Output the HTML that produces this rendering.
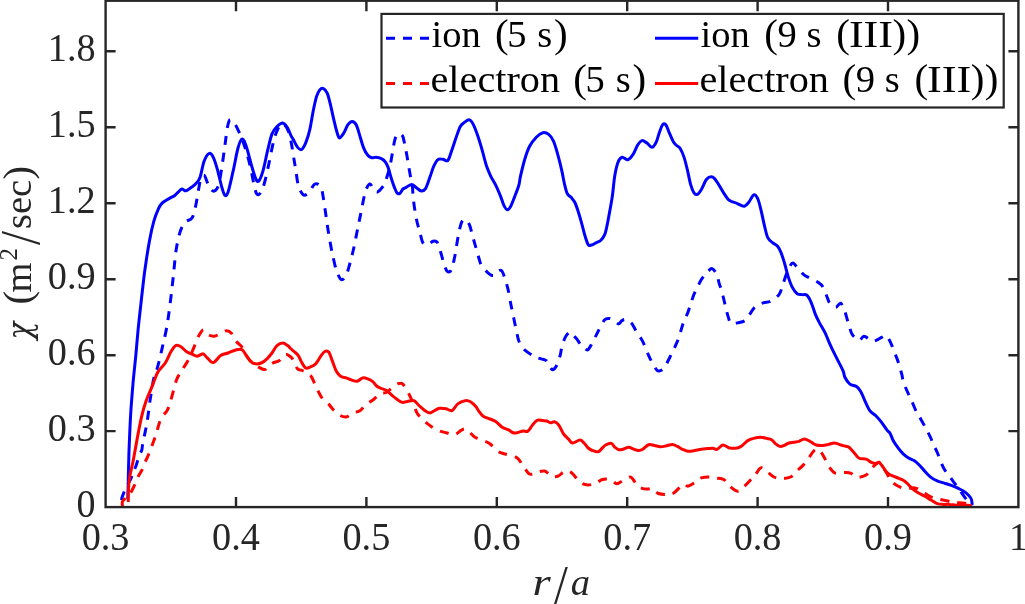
<!DOCTYPE html>
<html><head><meta charset="utf-8"><title>chi profile</title>
<style>html,body{margin:0;padding:0;background:#fff;}svg{display:block;}</style>
</head><body>
<svg width="1025" height="604" viewBox="0 0 1025 604">
<rect width="1025" height="604" fill="#fff"/>
<path d="M121.5,500.0C121.6,499.5 121.5,499.1 122.2,497.0C122.9,494.9 124.5,490.7 125.9,487.7C127.3,484.7 129.6,481.5 130.8,478.9C132.0,476.3 132.4,474.6 133.3,472.3C134.2,470.0 135.4,467.6 136.3,465.0C137.2,462.4 137.9,459.5 138.8,457.0C139.7,454.5 141.2,452.1 141.8,450.0C142.4,447.9 141.8,449.0 142.6,444.5C143.4,440.0 145.6,430.5 146.9,423.0C148.2,415.5 149.1,406.6 150.2,399.4C151.3,392.2 152.7,383.9 153.4,380.0C154.2,376.1 153.9,378.6 154.7,376.0C155.5,373.4 157.0,369.4 158.3,364.4C159.6,359.4 161.2,352.5 162.6,346.2C164.0,339.9 165.7,333.3 166.9,326.4C168.1,319.5 169.0,312.5 170.0,304.8C171.0,297.1 172.3,285.4 172.9,280.0C173.5,274.6 173.1,277.8 173.7,272.7C174.2,267.6 175.1,256.4 176.2,249.5C177.3,242.6 178.8,235.9 180.3,231.3C181.8,226.8 183.4,224.4 185.3,222.2C187.2,220.0 190.2,220.4 191.9,218.1C193.6,215.8 194.1,212.8 195.2,208.1C196.3,203.4 197.6,194.6 198.5,189.9C199.4,185.2 199.6,182.4 200.5,180.0C201.4,177.6 202.8,174.6 204.1,175.3C205.4,176.0 206.7,181.8 208.2,184.4C209.7,187.0 211.5,190.8 213.2,191.1C214.9,191.4 216.8,189.7 218.2,186.1C219.6,182.5 220.4,176.1 221.5,169.5C222.6,162.9 223.8,153.3 224.8,146.4C225.8,139.5 226.5,132.5 227.3,128.1C228.1,123.7 228.7,120.9 229.8,119.9C230.9,119.0 232.5,120.8 233.9,122.4C235.3,124.1 236.6,126.9 238.0,129.8C239.4,132.7 240.7,135.6 242.2,139.7C243.7,143.8 245.7,149.3 247.2,154.6C248.7,159.8 250.1,165.7 251.3,171.2C252.5,176.7 253.6,183.8 254.6,187.7C255.6,191.6 256.1,193.6 257.1,194.4C258.1,195.2 259.2,194.6 260.4,192.7C261.6,190.8 263.1,187.5 264.5,182.8C265.9,178.1 267.3,170.9 268.7,164.6C270.1,158.2 271.6,149.9 272.8,144.7C274.0,139.4 274.9,136.4 276.1,133.1C277.4,129.8 278.9,126.2 280.3,124.8C281.7,123.4 283.0,123.7 284.4,124.8C285.8,125.9 287.3,128.2 288.5,131.5C289.7,134.8 290.7,139.8 291.6,144.6C292.5,149.3 293.4,155.8 294.1,160.0C294.8,164.2 295.1,165.8 295.8,169.9C296.5,174.0 297.0,180.7 298.2,184.8C299.4,189.0 301.4,193.6 303.2,194.8C305.0,196.1 307.1,194.1 309.0,192.3C310.9,190.5 312.9,185.0 314.8,184.0C316.7,183.0 319.2,184.4 320.6,186.5C322.0,188.6 322.3,192.0 323.1,196.4C323.9,200.8 324.8,207.5 325.6,213.0C326.4,218.5 327.1,223.8 328.0,229.5C328.9,235.2 330.2,242.5 331.0,247.0C331.8,251.5 332.1,252.8 333.0,256.6C333.9,260.4 334.9,266.0 336.3,269.8C337.7,273.6 339.6,278.9 341.3,279.7C343.0,280.5 344.8,277.8 346.3,274.8C347.8,271.8 349.2,265.9 350.4,261.5C351.6,257.1 352.5,253.9 353.7,248.3C354.9,242.7 356.6,234.1 357.8,227.9C359.1,221.7 360.1,216.8 361.2,211.3C362.3,205.8 363.6,198.8 364.5,195.0C365.4,191.2 365.6,190.3 366.5,188.5C367.4,186.7 368.6,183.6 369.9,183.9C371.2,184.2 373.2,189.2 374.5,190.6C375.8,191.9 376.5,192.2 377.5,192.0C378.5,191.8 379.5,190.8 380.7,189.3C381.9,187.8 383.6,185.8 384.8,183.1C386.0,180.4 387.3,175.8 388.1,173.2C388.9,170.6 389.2,170.0 389.8,167.4C390.4,164.8 390.8,162.1 391.6,157.5C392.5,152.9 393.8,143.6 394.9,139.7C396.0,135.8 396.9,134.6 398.2,133.9C399.4,133.2 401.3,133.8 402.4,135.6C403.5,137.4 404.0,141.0 404.8,144.7C405.6,148.4 406.5,153.2 407.3,157.9C408.1,162.6 409.0,168.1 409.8,172.8C410.6,177.5 411.8,182.1 412.3,186.1C412.9,190.1 412.7,192.6 413.1,196.6C413.5,200.6 414.1,205.4 414.8,209.8C415.5,214.2 416.5,219.4 417.3,223.0C418.1,226.6 418.8,228.0 419.7,231.3C420.6,234.6 421.6,240.7 423.0,242.9C424.4,245.1 426.3,244.9 428.0,244.6C429.7,244.3 431.5,241.7 433.0,241.3C434.5,240.9 435.9,240.4 437.1,242.1C438.3,243.8 439.3,247.8 440.4,251.2C441.5,254.6 442.6,259.5 443.7,262.8C444.8,266.1 445.9,269.9 447.1,271.1C448.4,272.3 450.0,272.4 451.2,270.2C452.4,268.0 453.5,262.4 454.5,257.8C455.5,253.2 456.2,247.6 457.0,242.9C457.8,238.2 458.7,233.3 459.5,229.7C460.3,226.1 461.0,223.1 462.0,221.4C463.0,219.7 464.1,219.1 465.3,219.7C466.5,220.2 468.2,221.9 469.4,224.7C470.6,227.5 471.6,232.4 472.7,236.3C473.8,240.2 474.9,244.2 476.0,247.9C477.1,251.6 478.1,255.5 479.0,258.5C479.9,261.5 480.2,263.4 481.6,265.7C483.0,268.0 485.5,270.6 487.4,272.3C489.3,274.0 491.6,275.7 493.2,275.6C494.8,275.6 495.6,272.8 497.0,272.0C498.4,271.2 500.2,269.6 501.5,270.6C502.8,271.6 503.7,274.9 504.8,278.1C505.9,281.3 507.1,285.6 508.1,289.7C509.1,293.8 509.9,299.3 510.6,302.9C511.3,306.5 511.6,307.9 512.3,311.2C513.0,314.5 513.9,318.9 514.7,322.8C515.5,326.7 516.7,331.8 517.2,334.4C517.8,337.0 517.5,336.5 518.0,338.2C518.5,339.9 519.2,342.7 520.5,344.8C521.8,346.9 523.6,348.9 525.5,350.6C527.4,352.3 530.3,354.0 532.1,355.1C533.9,356.2 535.0,356.9 536.5,357.5C538.0,358.1 539.6,358.4 541.2,358.9C542.8,359.4 544.8,359.4 546.2,360.6C547.6,361.8 548.4,364.5 549.5,366.0C550.6,367.5 551.5,369.9 552.8,369.7C554.0,369.5 555.8,367.2 557.0,364.7C558.2,362.2 559.5,357.8 560.3,354.8C561.1,351.8 561.1,349.4 561.9,346.5C562.7,343.6 564.0,339.8 565.2,337.4C566.5,335.0 568.2,332.9 569.4,332.4C570.6,331.9 571.3,333.4 572.5,334.5C573.7,335.6 575.2,337.1 576.6,338.8C578.0,340.5 579.3,343.0 580.7,344.6C582.1,346.2 583.6,347.9 584.9,348.7C586.1,349.5 587.0,350.5 588.2,349.5C589.4,348.5 590.9,345.4 592.3,342.9C593.7,340.4 595.2,337.1 596.5,334.6C597.8,332.1 598.4,330.5 599.8,328.0C601.2,325.5 603.2,321.3 604.7,319.7C606.2,318.1 607.6,318.4 608.9,318.4C610.1,318.4 611.1,319.1 612.2,319.7C613.3,320.3 614.4,321.3 615.5,322.0C616.6,322.7 617.8,324.1 618.8,323.9C619.8,323.7 620.5,321.8 621.5,321.0C622.5,320.2 623.5,319.5 624.6,319.4C625.7,319.3 626.8,319.8 628.0,320.5C629.2,321.2 630.7,322.1 632.1,323.9C633.5,325.7 634.7,328.8 636.2,331.3C637.7,333.8 639.8,336.5 641.2,338.8C642.6,341.1 643.3,342.6 644.5,345.4C645.7,348.1 647.4,352.5 648.6,355.3C649.8,358.1 650.5,359.5 651.9,362.0C653.3,364.5 655.5,368.8 656.9,370.2C658.3,371.6 659.0,371.1 660.2,370.7C661.4,370.3 662.7,370.0 664.3,367.7C665.9,365.4 668.1,360.8 670.0,357.0C671.9,353.2 674.2,348.6 675.7,345.2C677.2,341.8 678.0,339.7 679.0,336.9C680.0,334.1 680.7,331.2 681.5,328.6C682.3,326.0 682.9,323.9 684.0,321.2C685.1,318.4 686.9,314.9 688.0,312.1C689.1,309.3 689.5,307.5 690.5,304.6C691.5,301.7 692.7,297.4 693.8,294.7C694.9,291.9 695.9,290.6 697.1,288.1C698.3,285.6 699.8,282.2 701.2,279.8C702.6,277.4 704.1,275.5 705.4,274.0C706.6,272.5 707.6,271.6 708.7,270.7C709.8,269.8 710.7,267.9 712.0,268.5C713.3,269.1 715.5,271.6 716.7,274.0C717.9,276.4 718.3,280.3 719.1,283.1C719.9,285.9 720.8,287.7 721.6,290.6C722.4,293.5 723.4,297.6 724.1,300.5C724.8,303.4 725.1,305.1 725.8,307.9C726.5,310.7 727.5,314.6 728.3,317.1C729.1,319.6 729.4,321.7 730.4,322.8C731.4,323.9 732.8,323.5 734.0,323.5C735.2,323.5 735.9,323.3 737.8,322.8C739.7,322.3 743.2,321.9 745.3,320.4C747.4,318.9 748.6,315.9 750.2,313.7C751.8,311.5 752.8,308.8 755.0,307.0C757.2,305.2 760.6,303.8 763.2,302.8C765.8,301.8 768.1,302.6 770.7,301.2C773.3,299.8 777.1,297.1 779.0,294.6C780.9,292.1 781.1,289.8 782.3,286.3C783.5,282.9 785.2,277.2 786.4,273.9C787.6,270.6 788.6,268.2 789.7,266.4C790.8,264.6 791.8,263.0 793.0,263.1C794.2,263.2 795.4,265.4 797.2,267.3C799.0,269.2 801.7,272.9 803.8,274.7C805.9,276.5 807.2,276.8 809.6,278.0C812.0,279.2 815.6,280.6 817.9,282.2C820.2,283.8 821.7,284.8 823.3,287.5C824.9,290.2 826.4,295.6 827.5,298.2C828.6,300.8 828.5,301.7 829.9,303.2C831.3,304.7 833.9,307.3 835.7,307.3C837.5,307.3 839.2,302.5 840.7,303.2C842.2,303.9 843.7,308.8 844.8,311.5C845.9,314.2 846.5,316.9 847.3,319.7C848.1,322.4 849.0,325.5 849.8,328.0C850.6,330.5 850.8,332.5 852.3,334.6C853.8,336.7 857.0,340.1 858.9,340.4C860.8,340.7 862.1,336.4 863.9,336.3C865.7,336.2 868.2,338.8 869.7,339.6C871.2,340.4 871.8,341.2 873.0,341.3C874.2,341.4 875.6,340.6 877.1,339.9C878.6,339.2 880.6,337.8 882.1,337.1C883.6,336.4 884.8,334.7 886.2,335.5C887.6,336.3 889.1,339.6 890.4,342.1C891.6,344.6 892.6,347.6 893.7,350.4C894.8,353.1 896.0,356.0 897.0,358.6C898.0,361.2 898.7,363.3 899.5,366.1C900.3,368.9 901.4,372.9 902.0,375.2C902.6,377.5 902.2,377.6 902.9,379.9C903.6,382.2 904.8,385.7 906.2,389.0C907.6,392.3 909.5,396.1 911.2,399.8C912.9,403.5 914.6,408.1 916.2,411.4C917.9,414.7 919.5,416.8 921.1,419.7C922.8,422.6 924.6,426.0 926.1,428.8C927.6,431.6 928.7,433.7 930.0,436.4C931.3,439.1 932.5,442.2 933.7,445.0C935.0,447.8 936.2,450.0 937.5,453.0C938.8,456.0 940.1,460.2 941.3,463.0C942.5,465.8 943.2,467.5 944.6,469.7C946.0,471.9 948.1,474.2 949.6,476.3C951.1,478.4 952.1,479.9 953.7,482.1C955.4,484.3 958.0,487.4 959.5,489.5C961.0,491.6 961.4,492.6 962.8,494.5C964.2,496.4 966.4,499.5 967.8,501.1C969.2,502.8 970.5,503.8 971.1,504.4" fill="none" stroke="#0000ff" stroke-width="3.0" stroke-dasharray="9 8" stroke-linejoin="round"/>
<path d="M127.8,499.0C127.9,496.5 128.1,489.5 128.2,484.0C128.3,478.5 128.4,472.3 128.6,466.0C128.8,459.7 128.8,455.0 129.2,446.0C129.6,437.0 130.1,423.0 130.8,412.0C131.5,401.0 132.5,389.6 133.3,380.0C134.2,370.4 135.1,362.9 135.9,354.5C136.7,346.1 137.3,338.0 138.1,329.7C138.9,321.4 139.9,313.1 140.8,304.8C141.7,296.5 142.7,287.6 143.6,280.0C144.5,272.4 145.4,266.2 146.4,259.5C147.4,252.8 148.5,245.9 149.7,239.6C150.9,233.2 152.4,226.4 153.8,221.4C155.2,216.4 156.6,212.8 158.0,209.8C159.4,206.8 159.9,205.3 162.1,203.2C164.3,201.1 169.1,198.7 171.2,197.4C173.3,196.2 173.2,196.7 174.5,195.7C175.8,194.7 177.4,192.7 178.7,191.6C179.9,190.5 180.8,189.2 182.0,189.1C183.2,189.0 184.6,191.1 186.1,190.8C187.6,190.5 189.5,188.6 191.1,187.5C192.7,186.4 194.0,185.7 195.5,184.0C197.0,182.3 198.6,181.3 200.0,177.5C201.4,173.7 202.6,165.3 204.1,161.3C205.6,157.3 207.6,154.2 209.1,153.5C210.6,152.8 211.8,154.4 213.2,157.1C214.6,159.8 216.0,164.7 217.4,169.5C218.8,174.3 220.3,181.8 221.5,186.1C222.7,190.4 223.7,194.2 224.8,195.2C225.9,196.2 226.7,195.9 228.1,191.9C229.5,187.9 231.4,178.5 233.1,171.2C234.8,163.9 236.5,153.4 238.0,148.0C239.5,142.6 240.8,139.2 242.2,138.9C243.6,138.6 244.8,142.1 246.3,146.4C247.8,150.7 249.8,159.4 251.3,164.6C252.8,169.8 254.2,175.1 255.4,177.8C256.6,180.6 257.4,182.2 258.7,181.1C259.9,180.0 261.4,176.4 262.9,171.2C264.4,166.0 266.3,155.9 267.8,149.7C269.3,143.5 270.5,137.8 272.0,133.9C273.5,130.0 275.2,128.3 277.0,126.5C278.8,124.7 281.0,122.8 282.7,122.9C284.4,123.1 285.8,125.3 287.2,127.4C288.6,129.5 290.0,133.6 291.0,135.6C292.0,137.6 292.2,137.7 293.3,139.6C294.4,141.5 296.0,145.4 297.4,147.1C298.8,148.8 300.2,150.2 301.6,149.5C303.0,148.8 304.3,146.2 305.7,142.9C307.1,139.6 308.6,134.9 309.8,129.7C311.0,124.5 312.0,117.0 313.1,111.5C314.2,106.0 315.4,100.2 316.5,96.6C317.6,93.0 318.7,91.3 319.8,89.9C320.9,88.5 321.9,87.8 323.1,88.3C324.3,88.8 326.0,90.5 327.2,93.2C328.4,96.0 329.4,100.4 330.5,104.8C331.6,109.2 332.7,115.0 333.8,119.7C334.9,124.4 336.2,130.0 337.2,133.0C338.2,136.0 338.5,137.9 339.6,137.9C340.7,137.9 342.4,135.2 343.8,133.0C345.2,130.8 346.5,126.6 347.9,124.7C349.3,122.8 350.7,121.4 352.1,121.4C353.5,121.4 355.0,122.5 356.2,124.7C357.4,126.9 358.3,130.7 359.5,134.6C360.7,138.5 362.2,144.4 363.6,147.9C365.0,151.4 366.4,153.7 367.8,155.3C369.2,157.0 370.5,157.5 371.9,157.8C373.3,158.1 374.4,157.1 376.1,157.3C377.8,157.5 380.7,158.2 382.3,159.1C383.9,159.9 384.6,161.0 385.6,162.4C386.6,163.8 387.4,165.6 388.1,167.4C388.8,169.2 389.1,170.8 389.8,173.2C390.5,175.5 391.5,179.0 392.3,181.5C393.1,184.0 393.9,186.2 394.7,188.1C395.5,190.0 396.3,192.3 397.2,193.2C398.1,194.0 399.1,193.9 400.1,193.2C401.1,192.5 402.1,189.8 403.0,188.9C403.9,188.0 404.3,188.4 405.7,187.7C407.1,186.9 409.7,184.4 411.5,184.4C413.3,184.4 414.8,186.6 416.4,187.7C418.0,188.8 419.9,190.9 421.4,191.1C422.9,191.2 424.1,190.8 425.5,188.6C426.9,186.4 428.3,181.5 429.7,177.8C431.1,174.1 432.4,169.2 433.8,166.2C435.2,163.2 436.4,160.8 437.9,159.6C439.4,158.4 441.2,159.2 442.9,159.3C444.6,159.4 446.4,162.0 447.9,160.4C449.4,158.8 450.6,153.5 452.0,149.7C453.4,145.8 454.8,141.2 456.2,137.3C457.6,133.4 458.9,129.0 460.3,126.5C461.7,124.0 462.9,123.5 464.4,122.4C465.9,121.3 467.9,119.5 469.4,119.9C470.9,120.3 472.1,122.0 473.5,124.8C474.9,127.6 476.5,132.1 478.0,136.5C479.5,140.9 481.1,146.4 482.5,151.3C483.9,156.2 485.2,162.1 486.6,166.2C488.0,170.3 489.2,172.9 490.7,176.1C492.2,179.3 494.0,181.8 495.7,185.2C497.4,188.6 499.3,193.2 500.7,196.6C502.1,200.0 502.9,203.5 504.0,205.7C505.1,207.9 506.2,209.7 507.3,209.8C508.4,209.9 509.4,208.7 510.6,206.5C511.8,204.3 513.3,200.2 514.7,196.6C516.1,193.0 517.9,188.4 518.9,185.0C519.9,181.6 519.5,180.3 520.5,176.1C521.5,171.8 523.2,164.5 524.7,159.5C526.2,154.5 527.7,150.0 529.6,146.3C531.5,142.6 534.1,139.5 536.3,137.2C538.5,134.9 540.8,133.2 542.9,132.7C545.0,132.2 546.9,133.0 548.7,134.4C550.5,135.8 552.1,137.9 553.6,141.3C555.1,144.7 556.4,149.6 557.8,154.6C559.2,159.6 560.8,166.2 561.9,171.1C563.0,176.0 563.6,180.2 564.5,184.0C565.4,187.8 566.2,191.3 567.3,193.6C568.4,195.9 570.0,196.1 571.3,197.6C572.6,199.1 573.8,200.2 574.9,202.5C576.0,204.8 577.1,208.1 578.2,211.5C579.3,214.9 580.5,219.1 581.6,223.1C582.7,227.1 583.8,231.9 584.9,235.5C586.0,239.1 587.1,243.0 588.2,244.6C589.3,246.2 590.1,245.3 591.5,245.0C592.9,244.7 595.0,243.3 596.5,242.6C598.0,241.8 599.2,241.8 600.6,240.5C602.0,239.2 603.6,237.3 604.7,234.7C605.8,232.1 606.4,228.7 607.2,224.8C608.0,220.9 608.8,216.5 609.7,211.5C610.6,206.5 611.7,200.9 612.5,195.0C613.3,189.1 613.8,181.7 614.7,176.2C615.6,170.7 616.8,165.4 618.0,162.2C619.2,159.0 620.5,157.6 622.1,157.2C623.8,156.8 626.1,160.1 627.9,159.7C629.7,159.3 631.2,157.2 632.9,154.7C634.5,152.2 636.3,147.2 637.8,144.8C639.3,142.5 640.5,140.9 642.0,140.6C643.5,140.3 645.4,142.0 647.0,143.1C648.6,144.2 650.4,147.4 651.9,147.3C653.4,147.2 654.9,144.8 656.1,142.3C657.4,139.8 658.3,135.4 659.4,132.4C660.5,129.4 661.6,125.9 662.7,124.6C663.8,123.3 664.7,123.5 665.8,124.8C666.9,126.1 667.9,129.5 669.1,132.3C670.3,135.1 672.0,139.2 673.2,141.4C674.5,143.6 675.5,144.4 676.6,145.5C677.7,146.6 678.7,146.1 679.9,148.0C681.1,149.9 682.8,153.5 684.0,157.1C685.2,160.7 686.2,164.9 687.3,169.5C688.4,174.1 689.5,180.5 690.6,184.4C691.7,188.3 692.8,191.0 693.9,192.7C695.0,194.4 696.0,194.9 697.3,194.4C698.5,193.9 699.9,191.9 701.4,189.4C702.9,186.9 704.8,181.6 706.4,179.5C708.0,177.4 709.4,176.8 710.8,176.7C712.2,176.5 713.1,177.0 714.6,178.6C716.1,180.2 717.9,183.5 719.6,186.1C721.3,188.7 723.2,192.2 724.6,194.4C726.0,196.6 726.9,198.0 728.0,199.2C729.1,200.4 730.1,200.8 731.5,201.5C732.9,202.2 734.9,202.5 736.4,203.1C737.9,203.7 739.2,204.6 740.6,205.1C742.0,205.6 743.3,206.6 744.7,206.1C746.1,205.6 747.3,204.2 748.8,202.3C750.3,200.4 752.3,195.4 753.8,194.8C755.3,194.2 756.6,196.2 757.9,199.0C759.1,201.8 760.2,206.8 761.3,211.4C762.4,216.0 763.5,221.9 764.6,226.3C765.7,230.7 766.5,235.2 767.9,237.9C769.3,240.7 771.1,241.4 772.8,242.8C774.4,244.2 776.4,244.8 777.8,246.5C779.2,248.2 780.0,250.1 781.1,252.8C782.2,255.5 783.2,258.8 784.4,262.7C785.6,266.6 786.8,272.3 788.1,276.4C789.4,280.5 790.7,284.2 792.2,287.1C793.7,290.0 795.5,292.4 797.2,293.7C798.9,294.9 800.6,294.3 802.2,294.6C803.9,294.9 805.6,294.0 807.1,295.4C808.6,296.8 809.9,299.6 811.3,302.8C812.7,306.0 814.0,311.0 815.4,314.4C816.8,317.8 817.9,319.9 819.5,322.9C821.1,325.9 823.4,329.4 825.0,332.6C826.6,335.8 827.7,339.2 829.1,342.3C830.5,345.4 831.7,348.1 833.2,351.2C834.7,354.3 836.5,357.8 838.2,361.1C839.9,364.4 842.1,368.4 843.2,371.1C844.3,373.8 843.9,375.3 845.0,377.5C846.1,379.7 848.0,382.6 849.9,384.1C851.8,385.6 854.8,385.4 856.6,386.6C858.4,387.8 859.3,389.2 860.7,391.5C862.1,393.8 863.3,397.4 864.8,400.6C866.3,403.8 868.0,408.1 869.8,410.6C871.6,413.1 873.7,413.6 875.6,415.5C877.5,417.4 879.5,419.7 881.4,422.2C883.3,424.7 885.8,428.6 887.2,430.4C888.6,432.2 889.0,431.5 890.0,433.2C891.0,434.9 891.9,438.2 893.3,440.7C894.7,443.2 896.6,445.9 898.3,448.1C899.9,450.3 901.6,452.3 903.2,453.9C904.9,455.5 906.4,456.6 908.2,457.7C910.0,458.8 912.2,459.4 914.0,460.6C915.8,461.8 917.2,462.9 919.0,464.7C920.8,466.5 922.9,469.2 924.8,471.3C926.7,473.4 928.5,475.5 930.6,477.1C932.7,478.7 934.9,479.9 937.2,480.9C939.5,481.9 942.2,482.4 944.6,483.2C947.0,483.9 949.1,484.6 951.3,485.4C953.5,486.2 955.8,487.2 957.9,488.2C960.0,489.2 962.1,490.1 963.7,491.2C965.4,492.2 966.6,493.3 967.8,494.5C969.0,495.7 970.4,497.2 971.1,498.6C971.8,500.0 971.9,501.7 972.0,502.8C972.1,503.9 972.0,504.9 972.0,505.3" fill="none" stroke="#0000ff" stroke-width="3.0" stroke-linejoin="round"/>
<path d="M122.4,506.0C122.4,505.3 122.0,502.8 122.4,501.6C122.8,500.4 123.9,499.9 124.9,498.6C126.0,497.3 127.6,495.1 128.7,494.0C129.8,492.9 130.3,493.2 131.3,491.7C132.3,490.1 133.6,487.3 134.8,484.7C136.0,482.1 137.1,478.9 138.3,476.3C139.6,473.8 141.1,472.0 142.3,469.4C143.5,466.8 144.6,463.5 145.7,460.9C146.8,458.2 147.4,457.7 149.0,453.5C150.6,449.3 153.5,441.7 155.5,435.9C157.5,430.1 158.9,423.0 160.9,418.7C162.9,414.4 165.6,413.7 167.4,410.1C169.2,406.5 170.2,402.2 171.7,397.2C173.2,392.2 174.8,384.5 176.5,380.0C178.2,375.5 180.0,373.6 182.0,370.2C184.0,366.8 186.5,363.5 188.6,359.5C190.7,355.5 192.8,350.1 194.4,346.2C196.1,342.3 197.0,339.0 198.5,336.3C200.0,333.6 201.7,330.2 203.3,330.0C204.9,329.8 206.4,333.8 208.2,334.8C210.0,335.8 212.1,336.3 214.0,336.2C215.9,336.1 217.7,334.9 219.8,334.0C221.9,333.1 224.6,330.8 226.5,330.7C228.4,330.6 229.8,331.4 231.4,333.2C233.1,335.0 234.6,339.1 236.4,341.5C238.2,343.9 240.3,344.6 242.2,347.3C244.1,350.1 246.2,355.4 248.0,358.0C249.8,360.6 251.2,361.5 253.0,363.0C254.8,364.5 256.8,366.0 258.7,367.1C260.6,368.2 262.8,369.7 264.5,369.6C266.2,369.5 267.3,367.4 268.7,366.3C270.1,365.2 271.0,364.0 272.8,363.0C274.6,362.0 277.3,361.9 279.4,360.5C281.5,359.1 283.5,355.1 285.2,354.4C286.9,353.6 288.2,355.2 289.4,356.0C290.6,356.8 291.1,356.8 292.5,358.9C293.9,361.0 295.9,366.9 297.5,368.8C299.1,370.7 300.3,369.5 302.4,370.5C304.5,371.5 307.8,372.4 309.9,374.6C312.0,376.8 313.3,380.7 314.8,383.7C316.3,386.7 317.6,390.2 319.0,392.8C320.4,395.4 321.5,397.6 323.1,399.5C324.8,401.4 327.2,402.8 328.9,404.4C330.5,406.0 331.2,407.6 333.0,409.4C334.8,411.2 337.5,413.9 339.7,415.2C341.9,416.4 344.1,417.3 346.3,416.9C348.5,416.5 350.7,413.7 352.9,412.7C355.1,411.7 357.3,412.5 359.5,411.1C361.7,409.7 363.8,406.3 366.2,404.4C368.6,402.5 371.3,401.3 373.6,399.5C375.9,397.7 378.0,394.9 380.2,393.7C382.4,392.5 384.0,393.8 386.6,392.3C389.2,390.8 393.4,386.3 395.7,384.8C398.0,383.3 399.4,383.2 400.7,383.2C401.9,383.1 402.0,383.0 403.2,384.5C404.4,386.0 406.6,389.5 408.1,392.3C409.6,395.1 411.1,398.5 412.3,401.4C413.6,404.3 414.6,407.5 415.6,409.7C416.6,411.9 416.7,412.8 418.1,414.6C419.5,416.4 422.0,418.6 423.9,420.4C425.8,422.2 427.4,423.7 429.7,425.4C432.0,427.1 435.1,429.2 437.9,430.4C440.6,431.6 443.4,432.1 446.2,432.8C449.0,433.5 452.0,434.9 454.5,434.5C457.0,434.1 459.4,431.3 461.1,430.4C462.9,429.5 463.6,428.7 465.0,429.0C466.4,429.3 467.7,430.6 469.4,432.0C471.1,433.4 472.7,435.8 475.0,437.2C477.3,438.6 480.7,439.4 483.2,440.5C485.7,441.6 487.4,442.0 489.9,443.8C492.4,445.6 495.8,449.7 498.1,451.3C500.4,452.9 501.3,452.9 503.9,453.7C506.5,454.5 511.4,455.2 513.9,456.2C516.4,457.2 517.1,457.7 518.8,459.5C520.4,461.3 522.1,464.6 523.8,467.0C525.5,469.4 527.3,472.4 528.8,473.6C530.3,474.8 531.5,474.3 533.0,474.0C534.5,473.7 536.0,472.5 537.9,472.0C539.8,471.5 542.6,470.8 544.5,471.1C546.4,471.4 547.6,473.0 549.0,474.0C550.4,475.0 551.2,476.6 552.8,476.9C554.4,477.2 556.9,476.5 558.6,475.8C560.3,475.1 561.5,473.3 563.0,472.5C564.5,471.7 565.9,470.7 567.5,470.9C569.1,471.1 570.4,471.8 572.5,473.7C574.6,475.6 577.6,480.1 579.9,482.0C582.2,483.9 583.9,484.5 586.5,484.8C589.1,485.1 593.0,484.5 595.6,483.6C598.2,482.7 599.8,480.2 602.3,479.5C604.8,478.8 608.2,478.8 610.5,479.5C612.8,480.2 614.6,483.2 616.3,483.6C618.0,484.0 619.0,482.8 620.5,482.0C622.0,481.2 623.8,479.9 625.4,479.1C627.0,478.3 629.0,476.9 630.4,477.0C631.8,477.1 632.3,478.5 633.5,480.0C634.7,481.5 636.2,484.7 637.8,486.1C639.3,487.5 641.2,488.1 642.8,488.6C644.4,489.1 645.9,489.0 647.5,489.0C649.1,489.0 650.9,487.9 652.7,488.6C654.5,489.4 656.0,492.5 658.5,493.5C661.0,494.5 664.9,494.5 667.5,494.4C670.1,494.3 671.5,494.4 674.1,492.7C676.7,491.0 680.9,485.5 683.2,484.4C685.5,483.3 686.0,486.5 688.1,486.1C690.2,485.7 693.4,483.4 695.6,482.0C697.8,480.6 699.0,478.6 701.4,477.8C703.8,477.0 707.2,476.9 709.7,477.0C712.2,477.1 714.0,477.7 716.3,478.1C718.6,478.5 721.6,478.3 723.7,479.5C725.8,480.7 726.5,483.4 728.7,485.3C730.9,487.2 734.6,490.7 737.0,491.1C739.4,491.5 740.6,489.5 742.8,487.7C745.0,485.9 748.2,482.4 750.2,480.3C752.2,478.2 753.2,477.4 755.0,475.3C756.8,473.2 758.9,468.6 760.8,467.9C762.7,467.2 764.4,469.7 766.6,471.2C768.8,472.7 771.5,475.8 774.0,477.0C776.5,478.2 778.7,478.6 781.5,478.6C784.3,478.6 788.1,478.2 790.6,477.0C793.1,475.8 794.3,473.1 796.4,471.2C798.5,469.3 800.9,467.6 803.0,465.4C805.1,463.2 807.0,460.3 808.8,457.9C810.6,455.5 812.3,452.4 813.8,451.0C815.3,449.6 816.7,449.1 817.9,449.3C819.1,449.5 819.9,450.6 821.0,452.0C822.1,453.4 823.2,455.5 824.5,457.9C825.8,460.3 827.0,463.7 828.7,466.2C830.4,468.7 832.6,471.7 834.5,472.8C836.4,473.9 838.5,472.9 840.3,472.8C842.1,472.8 843.7,472.4 845.5,472.5C847.3,472.6 849.0,472.5 851.0,473.3C853.0,474.1 854.9,477.1 857.4,477.4C859.9,477.7 863.9,476.3 866.1,475.0C868.3,473.7 869.2,471.4 870.7,469.8C872.2,468.2 873.3,466.4 874.8,465.2C876.2,463.9 877.9,461.7 879.4,462.3C880.9,462.9 882.6,466.7 884.0,468.7C885.4,470.7 886.4,472.6 887.5,474.5C888.6,476.4 888.7,478.4 890.4,480.3C892.1,482.2 895.4,484.6 897.9,486.0C900.4,487.4 902.5,488.2 905.3,488.5C908.1,488.8 912.2,487.6 914.8,487.9C917.3,488.2 918.1,489.0 920.6,490.4C923.1,491.8 927.1,494.8 929.7,496.2C932.3,497.6 933.6,497.8 936.4,498.6C939.2,499.4 943.5,500.2 946.3,500.8C949.0,501.4 950.7,501.7 952.9,502.0C955.1,502.3 957.3,502.5 959.5,502.8C961.7,503.1 964.1,503.1 966.2,503.6C968.3,504.2 971.0,505.7 972.0,506.1" fill="none" stroke="#ff0000" stroke-width="3.0" stroke-dasharray="9 8" stroke-linejoin="round"/>
<path d="M128.3,502.0C128.3,500.3 128.1,496.2 128.3,492.0C128.5,487.8 128.9,481.9 129.7,476.8C130.5,471.8 131.7,468.1 133.0,461.7C134.3,455.2 135.9,445.6 137.3,438.1C138.7,430.6 140.2,422.7 141.6,416.6C143.0,410.5 144.3,406.2 145.9,401.5C147.5,396.8 149.8,392.2 151.2,388.6C152.6,385.0 153.4,382.8 154.5,380.0C155.6,377.2 156.2,374.8 158.0,371.9C159.8,369.0 163.2,366.2 165.4,362.8C167.6,359.4 169.4,354.1 171.2,351.2C173.0,348.3 174.5,346.1 176.2,345.4C177.9,344.7 179.4,345.9 181.2,347.0C183.0,348.1 185.1,350.8 187.0,352.0C188.9,353.2 191.0,353.8 192.7,354.5C194.3,355.2 195.5,356.2 196.9,356.2C198.3,356.2 199.9,354.9 201.0,354.5C202.1,354.1 202.4,353.4 203.5,354.0C204.6,354.6 205.8,356.6 207.4,358.0C209.0,359.4 211.0,363.0 213.2,362.6C215.4,362.2 218.2,357.1 220.7,355.5C223.2,353.9 225.5,354.0 228.1,353.0C230.7,352.0 234.1,350.2 236.4,349.7C238.8,349.1 240.5,348.7 242.2,349.7C243.8,350.7 244.9,353.6 246.3,355.5C247.7,357.4 249.0,359.9 250.5,361.3C252.0,362.7 253.6,363.5 255.4,363.8C257.2,364.1 259.3,363.8 261.2,363.0C263.1,362.2 265.2,360.5 267.0,358.8C268.8,357.1 270.3,355.2 272.0,353.0C273.7,350.8 275.2,347.2 277.0,345.6C278.8,344.0 280.9,343.1 282.7,343.1C284.5,343.1 286.4,344.7 287.7,345.6C289.0,346.5 289.4,347.5 290.5,348.5C291.6,349.5 292.8,350.3 294.1,351.5C295.4,352.7 297.1,353.8 298.3,355.6C299.6,357.4 300.4,360.1 301.6,362.2C302.8,364.3 304.3,367.2 305.7,368.0C307.1,368.8 308.2,367.9 309.9,367.2C311.6,366.5 313.9,365.7 315.7,363.9C317.5,362.1 319.1,358.5 320.6,356.4C322.1,354.3 323.4,352.2 324.8,351.5C326.2,350.8 327.7,350.8 328.9,352.3C330.1,353.8 330.9,357.4 332.2,360.6C333.4,363.8 335.0,368.7 336.4,371.3C337.8,373.9 338.9,375.2 340.5,376.3C342.1,377.4 344.5,377.3 346.3,377.9C348.1,378.5 349.5,379.3 351.3,379.9C353.1,380.5 355.2,381.6 357.1,381.3C359.0,381.0 361.0,378.3 362.8,377.9C364.6,377.5 366.1,378.2 367.8,378.8C369.5,379.4 371.3,380.4 372.8,381.6C374.3,382.8 375.4,385.1 376.9,386.2C378.3,387.3 379.9,387.8 381.5,388.5C383.1,389.2 384.7,389.3 386.6,390.6C388.6,391.9 390.7,394.5 393.2,396.4C395.7,398.3 399.1,401.4 401.5,402.2C403.9,403.0 405.2,401.7 407.3,401.4C409.4,401.1 412.0,399.9 413.9,400.6C415.8,401.3 417.1,403.9 418.9,405.5C420.7,407.1 422.9,409.2 424.7,410.5C426.5,411.8 428.0,413.0 429.7,413.0C431.4,413.0 433.0,411.3 434.6,410.5C436.2,409.7 437.7,408.6 439.6,408.3C441.5,408.0 444.1,408.4 446.2,408.8C448.3,409.2 450.1,411.3 452.0,410.5C453.9,409.7 455.6,405.5 457.8,403.9C460.0,402.2 463.2,401.0 465.3,400.6C467.4,400.2 468.8,400.8 470.5,401.8C472.2,402.8 474.4,405.0 475.8,406.6C477.2,408.2 477.9,409.9 479.1,411.5C480.3,413.1 481.4,414.9 483.2,416.2C485.0,417.4 487.8,418.1 489.9,419.0C492.0,419.9 493.6,420.1 495.7,421.5C497.8,422.9 500.2,425.9 502.3,427.3C504.4,428.7 506.2,428.8 508.1,429.7C510.0,430.6 512.1,432.6 513.9,433.0C515.7,433.4 517.3,432.5 518.8,432.2C520.3,431.9 521.5,431.3 523.0,431.1C524.5,430.9 526.4,432.0 527.9,431.1C529.4,430.2 530.6,427.4 532.1,425.6C533.6,423.8 535.3,421.1 537.1,420.3C538.9,419.5 541.1,420.5 542.8,420.6C544.4,420.7 545.8,420.6 547.0,421.0C548.2,421.4 549.1,422.7 550.3,422.8C551.5,422.9 553.0,421.5 554.4,421.8C555.8,422.1 557.1,422.8 558.6,424.8C560.1,426.8 561.9,431.5 563.5,433.9C565.1,436.2 566.8,437.4 568.3,438.9C569.8,440.4 570.6,442.8 572.5,443.0C574.4,443.2 578.0,440.1 579.9,440.1C581.8,440.1 582.6,441.7 584.0,443.0C585.4,444.3 586.8,446.8 588.2,448.0C589.6,449.2 590.6,449.9 592.3,450.5C593.9,451.1 596.4,452.2 598.1,451.8C599.8,451.4 601.0,449.1 602.3,448.0C603.5,446.9 604.1,445.8 605.6,445.0C607.1,444.2 609.9,443.0 611.4,443.4C612.9,443.8 613.5,446.1 614.7,447.2C615.9,448.2 617.4,449.3 618.8,449.7C620.2,450.1 621.2,449.7 622.9,449.3C624.5,448.9 626.9,447.2 628.7,447.2C630.5,447.2 632.0,448.6 633.7,449.2C635.4,449.8 637.2,450.5 638.7,450.5C640.2,450.5 641.1,450.3 642.8,449.3C644.4,448.3 646.7,445.3 648.6,444.7C650.5,444.1 652.5,445.2 654.4,445.5C656.3,445.8 658.3,446.6 660.2,446.7C662.1,446.8 663.8,446.4 665.8,446.0C667.8,445.6 670.5,444.3 672.4,444.4C674.3,444.5 675.7,445.6 677.4,446.4C679.1,447.2 680.6,448.5 682.4,449.3C684.2,450.1 686.0,451.1 688.1,451.3C690.2,451.5 692.6,450.9 694.8,450.5C697.0,450.1 699.2,449.5 701.4,449.2C703.6,448.9 706.1,448.6 708.0,448.5C709.9,448.4 711.5,448.2 713.0,448.3C714.5,448.4 715.5,449.9 717.1,449.3C718.8,448.8 721.0,445.3 722.9,445.0C724.8,444.7 726.6,447.1 728.7,447.7C730.8,448.2 733.2,448.5 735.3,448.3C737.4,448.1 739.0,447.7 741.1,446.4C743.2,445.1 745.6,441.9 747.7,440.6C749.8,439.3 751.3,438.9 753.5,438.4C755.7,437.8 758.6,437.3 760.8,437.3C763.0,437.3 764.8,438.0 766.6,438.4C768.4,438.8 770.1,438.8 771.6,439.7C773.1,440.6 774.3,442.8 775.7,443.9C777.1,445.0 778.4,446.1 779.8,446.4C781.2,446.7 782.5,446.1 784.0,445.5C785.5,444.9 787.2,443.6 788.9,443.0C790.5,442.4 792.2,442.5 793.9,442.2C795.6,441.9 797.1,441.9 798.9,441.4C800.7,440.8 802.6,438.8 804.7,438.9C806.8,439.0 809.4,441.2 811.3,442.2C813.2,443.2 814.4,444.4 816.3,445.0C818.2,445.6 820.8,445.6 822.9,445.5C825.0,445.4 826.8,444.8 828.7,444.4C830.6,444.0 832.4,442.9 834.5,443.0C836.6,443.1 839.2,444.4 841.1,445.0C843.0,445.6 844.6,445.9 846.0,446.3C847.4,446.7 848.0,446.5 849.3,447.5C850.6,448.5 852.3,450.6 853.9,452.4C855.5,454.2 857.1,457.1 859.1,458.2C861.1,459.3 864.1,458.5 866.1,459.2C868.1,459.9 869.7,461.6 871.3,462.3C872.9,463.0 874.6,463.5 875.9,463.5C877.1,463.5 877.8,462.0 878.8,462.3C879.8,462.6 880.6,463.9 881.7,465.2C882.8,466.5 884.0,468.9 885.2,470.4C886.4,471.8 887.4,472.9 888.7,473.9C890.1,474.9 891.6,475.4 893.3,476.2C895.0,477.0 897.5,477.8 899.1,478.5C900.8,479.2 901.9,479.5 903.2,480.3C904.6,481.1 905.7,482.0 907.2,483.4C908.7,484.8 910.6,487.1 912.4,488.7C914.2,490.3 916.0,491.6 918.1,492.8C920.2,494.1 922.6,494.9 924.8,496.2C927.0,497.4 929.3,499.1 931.4,500.3C933.5,501.5 935.3,502.9 937.2,503.6C939.1,504.3 940.9,504.3 943.0,504.4C945.1,504.5 947.4,504.2 949.6,504.4C951.8,504.5 954.0,505.2 956.2,505.3C958.4,505.4 960.9,504.8 962.8,504.8C964.7,504.8 966.3,505.1 967.8,505.3C969.3,505.5 971.3,506.0 972.0,506.1" fill="none" stroke="#ff0000" stroke-width="3.0" stroke-linejoin="round"/>
<path d="M236.0,507.1V497.1M236.0,0.7V11.3M366.4,507.1V497.1M366.4,0.7V11.3M496.8,507.1V497.1M496.8,0.7V11.3M627.2,507.1V497.1M627.2,0.7V11.3M757.6,507.1V497.1M757.6,0.7V11.3M888.0,507.1V497.1M888.0,0.7V11.3M105.6,431.1H115.6M1018.4,431.1H1008.4M105.6,355.2H115.6M1018.4,355.2H1008.4M105.6,279.2H115.6M1018.4,279.2H1008.4M105.6,203.3H115.6M1018.4,203.3H1008.4M105.6,127.3H115.6M1018.4,127.3H1008.4M105.6,51.3H115.6M1018.4,51.3H1008.4" stroke="#262626" stroke-width="2.4" fill="none"/>
<rect x="105.6" y="0.7" width="912.8" height="506.4" fill="none" stroke="#262626" stroke-width="2.4"/>
<g fill="#262626" font-family="'Liberation Serif', serif" font-size="41"><text x="95.6" y="517.1" text-anchor="end" textLength="19.0" lengthAdjust="spacingAndGlyphs">0</text><text x="95.6" y="441.1" text-anchor="end" textLength="47.8" lengthAdjust="spacingAndGlyphs">0.3</text><text x="95.6" y="365.2" text-anchor="end" textLength="47.8" lengthAdjust="spacingAndGlyphs">0.6</text><text x="95.6" y="289.2" text-anchor="end" textLength="47.8" lengthAdjust="spacingAndGlyphs">0.9</text><text x="95.6" y="213.3" text-anchor="end" textLength="47.8" lengthAdjust="spacingAndGlyphs">1.2</text><text x="95.6" y="137.3" text-anchor="end" textLength="47.8" lengthAdjust="spacingAndGlyphs">1.5</text><text x="95.6" y="61.3" text-anchor="end" textLength="47.8" lengthAdjust="spacingAndGlyphs">1.8</text><text x="105.6" y="549.8" text-anchor="middle" textLength="47.8" lengthAdjust="spacingAndGlyphs">0.3</text><text x="236.0" y="549.8" text-anchor="middle" textLength="47.8" lengthAdjust="spacingAndGlyphs">0.4</text><text x="366.4" y="549.8" text-anchor="middle" textLength="47.8" lengthAdjust="spacingAndGlyphs">0.5</text><text x="496.8" y="549.8" text-anchor="middle" textLength="47.8" lengthAdjust="spacingAndGlyphs">0.6</text><text x="627.2" y="549.8" text-anchor="middle" textLength="47.8" lengthAdjust="spacingAndGlyphs">0.7</text><text x="757.6" y="549.8" text-anchor="middle" textLength="47.8" lengthAdjust="spacingAndGlyphs">0.8</text><text x="888.0" y="549.8" text-anchor="middle" textLength="47.8" lengthAdjust="spacingAndGlyphs">0.9</text><text x="1018.4" y="549.8" text-anchor="middle" textLength="19.0" lengthAdjust="spacingAndGlyphs">1</text></g>
<g font-family="'Liberation Serif', serif" font-size="38.5" fill="#262626"><text y="594.5"><tspan x="532.5" font-style="italic" textLength="18.2" lengthAdjust="spacingAndGlyphs">r</tspan><tspan x="553.0" y="600.5" font-family="'DejaVu Sans Light', 'Liberation Serif', serif" font-size="46">/</tspan><tspan x="570.8" y="594.5" font-style="italic">a</tspan></text></g>
<g transform="translate(31.2,0) rotate(-90)" font-family="'Liberation Serif', serif" font-size="38.5" fill="#262626"><text y="0"><tspan x="-339.5" font-family="'DejaVu Serif', 'Liberation Serif', serif" font-style="italic" font-size="33" textLength="17.8" lengthAdjust="spacingAndGlyphs">&#967;</tspan> <tspan x="-304.6" font-size="41">(</tspan><tspan x="-292.4">m</tspan><tspan x="-260.6" y="-14" font-size="25">2</tspan><tspan x="-245.8" y="4.8" font-family="'DejaVu Sans Light', 'Liberation Serif', serif" font-size="46">/</tspan><tspan x="-229" y="0">sec</tspan><tspan x="-179.6" font-size="41">)</tspan></text></g>
<rect x="381.5" y="13.9" width="622.2" height="93.6" fill="#fff" stroke="#262626" stroke-width="2.2"/><path d="M386,38.3H429.5" stroke="#0000ff" stroke-width="3.0" stroke-dasharray="9 8"/><path d="M386,83.6H429.5" stroke="#ff0000" stroke-width="3.0" stroke-dasharray="9 8"/><path d="M655,38.3H698.2" stroke="#0000ff" stroke-width="3.0"/><path d="M655,83.6H698.2" stroke="#ff0000" stroke-width="3.0"/><g fill="#000" font-family="'Liberation Serif', serif" font-size="38.5"><text y="47.1"><tspan x="431.5">ion</tspan> <tspan x="494.9" font-size="41">(</tspan><tspan x="507.2">5</tspan> <tspan x="537.3">s</tspan><tspan x="554.0" font-size="41">)</tspan></text><text y="92.3"><tspan x="430.5" textLength="129.6" lengthAdjust="spacingAndGlyphs">electron</tspan> <tspan x="573.2" font-size="41">(</tspan><tspan x="585.6">5</tspan> <tspan x="615.8">s</tspan><tspan x="632.4" font-size="41">)</tspan></text><text y="47.1"><tspan x="700.6">ion</tspan> <tspan x="764.3" font-size="41">(</tspan><tspan x="777.6">9</tspan> <tspan x="806.6">s</tspan> <tspan x="836.2" font-size="41">(</tspan><tspan x="848.9" textLength="44.2" lengthAdjust="spacingAndGlyphs">III</tspan><tspan x="892.5" font-size="41">)</tspan><tspan x="906.5" font-size="41">)</tspan></text><text y="92.3"><tspan x="699.4" textLength="129.6" lengthAdjust="spacingAndGlyphs">electron</tspan> <tspan x="842.5" font-size="41">(</tspan><tspan x="855.8">9</tspan> <tspan x="884.8">s</tspan> <tspan x="914.4" font-size="41">(</tspan><tspan x="927.0" textLength="44.2" lengthAdjust="spacingAndGlyphs">III</tspan><tspan x="970.7" font-size="41">)</tspan><tspan x="984.7" font-size="41">)</tspan></text></g>
</svg>
</body></html>
